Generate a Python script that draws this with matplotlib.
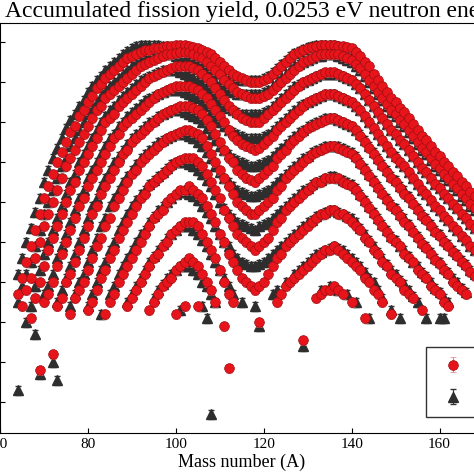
import numpy as np
import matplotlib
matplotlib.use("Agg")
import matplotlib.pyplot as plt
from matplotlib.ticker import LogLocator

plt.rcParams["font.family"] = ["Liberation Serif", "DejaVu Serif"]

# log10 of accumulated yield, one row per mass number: "A  v1 v2 ..."
red_rows = """
64 -7.3
65 -6.9 -7.6
66 -6.5 -7.2
67 -6.1 -6.9 -7.9
68 -5.7 -6.4 -7.4
69 -5.3 -6.0 -7.0 -9.2
70 -4.9 -5.6 -6.6 -7.5
71 -4.6 -5.3 -6.2 -7.3
72 -4.3 -5.0 -5.9 -7.0 -8.8
73 -4.0 -4.7 -5.6 -6.6 -7.6
74 -3.75 -4.4 -5.3 -6.3 -7.4
75 -3.5 -4.1 -5.0 -6.0 -7.0
76 -3.25 -3.9 -4.7 -5.7 -6.8 -7.8
77 -3.1 -3.7 -4.5 -5.4 -6.5 -7.4
78 -2.85 -3.5 -4.2 -5.1 -6.2 -7.2
79 -2.7 -3.3 -4.0 -4.9 -5.9 -7.0
80 -2.5 -3.1 -3.8 -4.6 -5.6 -6.7 -7.7
81 -2.35 -2.9 -3.6 -4.4 -5.3 -6.4 -7.5
82 -2.15 -2.7 -3.4 -4.2 -5.1 -6.1 -7.2
83 -2.05 -2.6 -3.2 -4.0 -4.8 -5.9 -6.9
84 -1.9 -2.4 -3.0 -3.8 -4.6 -5.6 -6.7 -7.8
85 -1.8 -2.3 -2.9 -3.6 -4.4 -5.4 -6.4 -7.5
86 -1.7 -2.2 -2.8 -3.4 -4.2 -5.1 -6.2 -7.3
87 -1.6 -2.1 -2.6 -3.3 -4.0 -4.9 -5.9 -7.0
88 -1.5 -2.0 -2.5 -3.1 -3.8 -4.7 -5.7 -6.8
89 -1.4 -1.9 -2.4 -3.0 -3.7 -4.5 -5.5 -6.6 -7.6
90 -1.35 -1.8 -2.3 -2.9 -3.5 -4.3 -5.3 -6.4 -7.4
91 -1.3 -1.7 -2.2 -2.8 -3.4 -4.2 -5.1 -6.2 -7.2
92 -1.25 -1.6 -2.1 -2.7 -3.3 -4.0 -4.9 -6.0 -7.0
93 -1.2 -1.55 -2.0 -2.6 -3.2 -3.9 -4.8 -5.8 -6.8
94 -1.2 -1.5 -1.9 -2.5 -3.1 -3.8 -4.6 -5.6 -6.6 -7.7
95 -1.15 -1.45 -1.85 -2.4 -3.0 -3.7 -4.5 -5.4 -6.4 -7.5
96 -1.15 -1.4 -1.8 -2.3 -2.9 -3.6 -4.4 -5.3 -6.3 -7.3
97 -1.12 -1.35 -1.75 -2.25 -2.8 -3.5 -4.3 -5.2 -6.1 -7.1
98 -1.1 -1.3 -1.7 -2.2 -2.75 -3.4 -4.2 -5.0 -6.0 -7.0
99 -1.1 -1.3 -1.65 -2.15 -2.7 -3.35 -4.1 -4.9 -5.8 -6.9
100 -1.08 -1.28 -1.6 -2.1 -2.65 -3.3 -4.0 -4.8 -5.7 -6.7 -7.8
101 -1.08 -1.25 -1.6 -2.1 -2.6 -3.25 -3.95 -4.7 -5.6 -6.6
102 -1.08 -1.25 -1.6 -2.1 -2.6 -3.2 -3.9 -4.7 -5.5 -6.5 -7.6
103 -1.1 -1.25 -1.6 -2.1 -2.6 -3.2 -3.9 -4.6 -5.5 -6.4
104 -1.12 -1.3 -1.65 -2.15 -2.65 -3.25 -3.9 -4.7 -5.5 -6.5
105 -1.15 -1.35 -1.7 -2.2 -2.7 -3.3 -4.0 -4.8 -5.6 -6.6 -7.6
106 -1.2 -1.4 -1.8 -2.3 -2.8 -3.4 -4.1 -4.9 -5.8 -6.8
107 -1.25 -1.5 -1.9 -2.4 -2.95 -3.6 -4.3 -5.1 -6.0 -7.0
108 -1.3 -1.6 -2.0 -2.55 -3.1 -3.8 -4.5 -5.3 -6.2 -7.2
109 -1.4 -1.7 -2.15 -2.7 -3.3 -4.0 -4.7 -5.5 -6.4 -7.5
110 -1.5 -1.8 -2.3 -2.85 -3.5 -4.2 -4.9 -5.8 -6.7
111 -1.6 -1.95 -2.45 -3.0 -3.7 -4.4 -5.2 -6.0 -7.0 -8.1
112 -1.7 -2.05 -2.6 -3.2 -3.9 -4.6 -5.4 -6.3 -7.3 -9.15
113 -1.8 -2.15 -2.7 -3.35 -4.0 -4.8 -5.6 -6.5 -7.5
114 -1.85 -2.25 -2.8 -3.45 -4.2 -5.0 -5.8 -6.7
115 -1.9 -2.3 -2.9 -3.55 -4.3 -5.1 -5.9 -6.9
116 -1.95 -2.35 -2.95 -3.6 -4.4 -5.2 -6.0 -7.0
117 -2.0 -2.4 -3.0 -3.65 -4.45 -5.3 -6.1 -7.1
118 -2.0 -2.4 -3.0 -3.7 -4.5 -5.3 -6.2 -7.2
119 -2.0 -2.4 -3.0 -3.65 -4.4 -5.2 -6.1 -7.1 -8.0
120 -1.95 -2.35 -2.9 -3.55 -4.3 -5.1 -6.0 -7.0
121 -1.9 -2.3 -2.8 -3.45 -4.2 -5.0 -5.9 -6.8
122 -1.8 -2.2 -2.7 -3.35 -4.1 -4.9 -5.7 -6.6
123 -1.7 -2.1 -2.6 -3.2 -3.9 -4.7 -5.5 -6.4 -7.5
124 -1.6 -2.0 -2.5 -3.1 -3.8 -4.6 -5.4 -6.3 -7.3
125 -1.5 -1.9 -2.4 -3.0 -3.7 -4.4 -5.2 -6.1 -7.1
126 -1.4 -1.8 -2.3 -2.9 -3.55 -4.3 -5.1 -6.0 -7.0
127 -1.3 -1.7 -2.2 -2.8 -3.45 -4.2 -5.0 -5.9 -6.9
128 -1.25 -1.6 -2.1 -2.7 -3.35 -4.1 -4.9 -5.8 -6.8
129 -1.2 -1.5 -2.0 -2.6 -3.25 -4.0 -4.8 -5.7 -6.7 -8.45
130 -1.15 -1.45 -1.95 -2.5 -3.15 -3.9 -4.7 -5.6 -6.6
131 -1.12 -1.4 -1.9 -2.45 -3.1 -3.8 -4.6 -5.5 -6.5
132 -1.1 -1.35 -1.85 -2.4 -3.05 -3.75 -4.5 -5.4 -6.4 -7.4
133 -1.08 -1.3 -1.8 -2.35 -3.0 -3.7 -4.5 -5.3 -6.3 -7.3
134 -1.08 -1.3 -1.75 -2.3 -2.95 -3.65 -4.4 -5.3 -6.2 -7.2
135 -1.08 -1.3 -1.75 -2.3 -2.9 -3.6 -4.4 -5.2 -6.2 -7.2
136 -1.08 -1.3 -1.75 -2.3 -2.9 -3.6 -4.4 -5.2 -6.1 -7.1
137 -1.1 -1.3 -1.8 -2.35 -2.95 -3.65 -4.4 -5.3 -6.2 -7.2
138 -1.1 -1.35 -1.85 -2.4 -3.0 -3.7 -4.5 -5.3 -6.3 -7.3
139 -1.12 -1.4 -1.9 -2.45 -3.05 -3.75 -4.55 -5.4 -6.4
140 -1.15 -1.45 -1.95 -2.5 -3.1 -3.8 -4.6 -5.5 -6.5 -7.5
141 -1.25 -1.55 -2.05 -2.6 -3.2 -3.9 -4.7 -5.6 -6.6
142 -1.35 -1.65 -2.15 -2.7 -3.35 -4.05 -4.85 -5.7 -6.7
143 -1.5 -1.8 -2.3 -2.85 -3.5 -4.2 -5.0 -5.9 -6.9 -7.9
144 -1.6 -1.95 -2.45 -3.0 -3.65 -4.35 -5.15 -6.0 -7.0
145 -1.8 -2.1 -2.6 -3.15 -3.8 -4.5 -5.3 -6.2 -7.2
146 -1.95 -2.25 -2.75 -3.3 -3.95 -4.65 -5.45 -6.3 -7.3
147 -2.1 -2.4 -2.9 -3.45 -4.1 -4.8 -5.6 -6.5 -7.5
148 -2.25 -2.55 -3.05 -3.6 -4.25 -4.95 -5.75 -6.6
149 -2.4 -2.7 -3.2 -3.75 -4.4 -5.1 -5.9 -6.8 -7.8
150 -2.5 -2.8 -3.3 -3.9 -4.5 -5.2 -6.0 -6.9
151 -2.65 -2.95 -3.45 -4.0 -4.65 -5.35 -6.1 -7.0
152 -2.75 -3.05 -3.55 -4.1 -4.8 -5.5 -6.3 -7.2
153 -2.9 -3.2 -3.7 -4.25 -4.9 -5.6 -6.4 -7.3
154 -3.05 -3.35 -3.85 -4.4 -5.05 -5.75 -6.5 -7.4
155 -3.2 -3.5 -4.0 -4.55 -5.2 -5.9 -6.7
156 -3.35 -3.65 -4.15 -4.7 -5.35 -6.05 -6.8 -7.7
157 -3.45 -3.75 -4.25 -4.8 -5.45 -6.15 -6.9
158 -3.6 -3.9 -4.4 -4.95 -5.6 -6.3 -7.1
159 -3.75 -4.05 -4.55 -5.1 -5.75 -6.45 -7.2
160 -3.85 -4.15 -4.65 -5.2 -5.85 -6.55 -7.3
161 -4.0 -4.3 -4.8 -5.35 -6.0 -6.7 -7.5
162 -4.1 -4.4 -4.9 -5.45 -6.1 -6.8 -7.6
163 -4.25 -4.55 -5.05 -5.6 -6.25 -7.0
164 -4.35 -4.65 -5.15 -5.7 -6.35 -7.1
165 -4.5 -4.8 -5.3 -5.85 -6.5 -7.2
166 -4.6 -4.9 -5.4 -5.95 -6.6 -7.3
167 -4.75 -5.05 -5.55 -6.1 -6.75
168 -4.85 -5.15 -5.65 -6.2 -6.85
"""

black_rows = """
64 -6.8 -7.5 -9.7
65 -6.4 -7.1
66 -6.0 -6.8 -8.0
67 -5.65 -6.5 -7.6
68 -5.25 -6.1 -7.1 -8.3
69 -4.9 -5.7 -6.7 -9.3
70 -4.5 -5.3 -6.3 -7.3
71 -4.2 -5.0 -6.0 -7.1
72 -3.9 -4.7 -5.7 -6.8 -9.0
73 -3.65 -4.4 -5.4 -6.4 -7.5 -9.45
74 -3.4 -4.1 -5.1 -6.1 -7.2
75 -3.15 -3.9 -4.8 -5.8 -6.9
76 -2.95 -3.6 -4.5 -5.5 -6.6 -7.6
77 -2.8 -3.4 -4.3 -5.2 -6.3 -7.3
78 -2.6 -3.2 -4.0 -4.9 -6.0 -7.0
79 -2.45 -3.0 -3.8 -4.7 -5.7 -6.8
80 -2.25 -2.8 -3.6 -4.4 -5.4 -6.5 -7.6
81 -2.1 -2.65 -3.4 -4.2 -5.1 -6.2 -7.3
82 -1.95 -2.5 -3.2 -4.0 -4.9 -5.9 -7.0
83 -1.85 -2.35 -3.0 -3.8 -4.6 -5.6 -6.7 -7.8
84 -1.7 -2.2 -2.85 -3.6 -4.4 -5.4 -6.5
85 -1.6 -2.1 -2.7 -3.4 -4.2 -5.1 -6.2 -7.3
86 -1.5 -2.0 -2.6 -3.3 -4.0 -4.9 -6.0 -7.1
87 -1.4 -1.9 -2.45 -3.1 -3.85 -4.7 -5.7 -6.8
88 -1.3 -1.8 -2.35 -3.0 -3.7 -4.5 -5.5 -6.6
89 -1.22 -1.7 -2.25 -2.85 -3.55 -4.35 -5.3 -6.4 -7.5
90 -1.15 -1.6 -2.15 -2.75 -3.4 -4.2 -5.1 -6.2 -7.3
91 -1.1 -1.5 -2.05 -2.65 -3.3 -4.05 -4.95 -6.0 -7.1
92 -1.08 -1.45 -1.95 -2.55 -3.2 -3.9 -4.8 -5.8 -6.9
93 -1.08 -1.4 -1.9 -2.45 -3.1 -3.8 -4.7 -5.7 -6.7
94 -1.08 -1.35 -1.85 -2.4 -3.0 -3.7 -4.55 -5.5 -6.5
95 -1.08 -1.35 -1.8 -2.35 -2.95 -3.6 -4.45 -5.35 -6.35 -7.4
96 -1.08 -1.3 -1.75 -2.3 -2.85 -3.5 -4.35 -5.2 -6.2 -7.2
97 -1.1 -1.3 -1.7 -2.25 -2.8 -3.45 -4.25 -5.1 -6.05 -7.05
98 -1.1 -1.3 -1.7 -2.2 -2.75 -3.4 -4.15 -5.0 -5.9 -6.9
99 -1.12 -1.3 -1.7 -2.2 -2.7 -3.35 -4.05 -4.9 -5.8 -6.8
100 -1.15 -1.35 -1.7 -2.2 -2.7 -3.3 -4.0 -4.8 -5.7 -6.7
101 -1.18 -1.4 -1.75 -2.2 -2.7 -3.3 -4.0 -4.75 -5.6 -6.6 -7.7
102 -1.22 -1.45 -1.8 -2.25 -2.75 -3.3 -4.0 -4.75 -5.6 -6.6
103 -1.27 -1.5 -1.85 -2.3 -2.8 -3.35 -4.05 -4.8 -5.6 -6.6
104 -1.33 -1.55 -1.9 -2.35 -2.85 -3.4 -4.1 -4.85 -5.7 -6.7
105 -1.4 -1.6 -1.95 -2.4 -2.9 -3.5 -4.2 -4.95 -5.8 -6.8
106 -1.5 -1.7 -2.05 -2.5 -3.0 -3.6 -4.3 -5.1 -5.95 -7.0 -7.6
107 -1.6 -1.8 -2.15 -2.6 -3.15 -3.75 -4.45 -5.25 -6.1 -7.1 -7.9
108 -1.7 -1.9 -2.3 -2.75 -3.3 -3.9 -4.6 -5.4 -6.3 -7.3 -10.3
109 -1.75 -2.0 -2.4 -2.9 -3.45 -4.1 -4.8 -5.6 -6.5 -7.5
110 -1.8 -2.1 -2.5 -3.0 -3.6 -4.25 -5.0 -5.8 -6.7
111 -1.85 -2.15 -2.6 -3.1 -3.7 -4.4 -5.15 -6.0 -6.9
112 -1.9 -2.2 -2.65 -3.2 -3.8 -4.5 -5.3 -6.1 -7.1
113 -1.9 -2.25 -2.7 -3.25 -3.9 -4.6 -5.4 -6.3 -7.3
114 -1.92 -2.3 -2.75 -3.3 -3.95 -4.7 -5.5 -6.4
115 -1.95 -2.3 -2.8 -3.35 -4.0 -4.75 -5.55 -6.5 -7.5
116 -1.95 -2.3 -2.8 -3.4 -4.05 -4.8 -5.6 -6.55
117 -1.95 -2.3 -2.8 -3.4 -4.1 -4.85 -5.65 -6.6
118 -1.95 -2.3 -2.8 -3.4 -4.1 -4.85 -5.7 -6.6 -7.6
119 -1.95 -2.3 -2.8 -3.4 -4.05 -4.8 -5.6 -6.55 -8.1
120 -1.9 -2.25 -2.75 -3.35 -4.0 -4.75 -5.55 -6.5
121 -1.85 -2.2 -2.7 -3.3 -3.95 -4.7 -5.5 -6.4
122 -1.75 -2.1 -2.6 -3.2 -3.85 -4.6 -5.4 -6.3 -7.3
123 -1.65 -2.0 -2.5 -3.1 -3.75 -4.5 -5.3 -6.2 -7.2
124 -1.55 -1.9 -2.4 -3.0 -3.65 -4.4 -5.2 -6.1
125 -1.45 -1.8 -2.3 -2.9 -3.55 -4.3 -5.1 -6.0 -7.0
126 -1.35 -1.7 -2.2 -2.8 -3.45 -4.2 -5.0 -5.9
127 -1.28 -1.6 -2.1 -2.7 -3.35 -4.1 -4.9 -5.8 -6.8
128 -1.22 -1.55 -2.05 -2.6 -3.25 -4.0 -4.8 -5.7 -6.7
129 -1.18 -1.5 -2.0 -2.55 -3.2 -3.9 -4.7 -5.6 -6.6 -8.6
130 -1.12 -1.45 -1.95 -2.5 -3.1 -3.85 -4.65 -5.5 -6.5
131 -1.1 -1.4 -1.9 -2.45 -3.05 -3.75 -4.55 -5.45 -6.4
132 -1.08 -1.35 -1.85 -2.4 -3.0 -3.7 -4.5 -5.35 -6.3
133 -1.08 -1.35 -1.8 -2.35 -2.95 -3.65 -4.45 -5.3 -6.25 -7.2
134 -1.08 -1.3 -1.8 -2.3 -2.9 -3.6 -4.4 -5.25 -6.2
135 -1.08 -1.3 -1.8 -2.3 -2.9 -3.6 -4.35 -5.2 -6.15 -7.1
136 -1.08 -1.3 -1.8 -2.3 -2.9 -3.6 -4.35 -5.2 -6.1
137 -1.1 -1.35 -1.8 -2.35 -2.95 -3.6 -4.4 -5.25 -6.15 -7.2
138 -1.12 -1.4 -1.85 -2.4 -3.0 -3.65 -4.45 -5.3 -6.2
139 -1.15 -1.45 -1.9 -2.45 -3.05 -3.7 -4.5 -5.35 -6.3 -7.3
140 -1.2 -1.5 -1.95 -2.5 -3.1 -3.75 -4.55 -5.4 -6.4
141 -1.3 -1.6 -2.05 -2.6 -3.2 -3.85 -4.65 -5.5 -6.5 -7.5
142 -1.42 -1.7 -2.15 -2.7 -3.3 -4.0 -4.8 -5.65 -6.6
143 -1.55 -1.85 -2.3 -2.85 -3.45 -4.15 -4.95 -5.8 -6.75
144 -1.7 -2.0 -2.45 -3.0 -3.6 -4.3 -5.1 -5.95 -6.9 -7.9
145 -1.85 -2.15 -2.6 -3.15 -3.75 -4.45 -5.25 -6.1 -7.0
146 -2.0 -2.3 -2.75 -3.3 -3.9 -4.6 -5.4 -6.25 -7.2
147 -2.15 -2.45 -2.9 -3.45 -4.05 -4.75 -5.55 -6.4 -7.4
148 -2.3 -2.6 -3.05 -3.6 -4.2 -4.9 -5.7 -6.55
149 -2.45 -2.75 -3.2 -3.75 -4.35 -5.05 -5.85 -6.7 -7.7
150 -2.55 -2.85 -3.3 -3.85 -4.45 -5.15 -5.95 -6.8
151 -2.7 -3.0 -3.45 -4.0 -4.6 -5.3 -6.1 -6.95 -7.9
152 -2.8 -3.1 -3.55 -4.1 -4.7 -5.4 -6.2 -7.05
153 -2.95 -3.25 -3.7 -4.25 -4.85 -5.55 -6.35 -7.2
154 -3.1 -3.4 -3.85 -4.4 -5.0 -5.7 -6.5 -7.35
155 -3.25 -3.55 -4.0 -4.55 -5.15 -5.85 -6.6 -7.5
156 -3.4 -3.7 -4.15 -4.7 -5.3 -6.0 -6.75
157 -3.5 -3.8 -4.25 -4.8 -5.4 -6.1 -6.85 -7.9
158 -3.65 -3.95 -4.4 -4.95 -5.55 -6.25 -7.0
159 -3.8 -4.1 -4.55 -5.1 -5.7 -6.4 -7.15
160 -3.9 -4.2 -4.65 -5.2 -5.8 -6.5 -7.25 -7.9
161 -4.05 -4.35 -4.8 -5.35 -5.95 -6.65 -7.4 -7.9
162 -4.15 -4.45 -4.9 -5.45 -6.05 -6.75 -7.5
163 -4.3 -4.6 -5.05 -5.6 -6.2 -6.9
164 -4.4 -4.7 -5.15 -5.7 -6.3 -7.0
165 -4.55 -4.85 -5.3 -5.85 -6.45 -7.15
166 -4.65 -4.95 -5.4 -5.95 -6.55 -7.25
167 -4.8 -5.1 -5.55 -6.1 -6.7
168 -4.9 -5.2 -5.65 -6.2 -6.8
"""

rel_unc = 0.25  # relative uncertainty shown as error bars
labels = ["235U, evaluated", "235U, calculated"]


def parse(rows):
    a, y = [], []
    for line in rows.strip().splitlines():
        parts = line.split()
        for v in parts[1:]:
            a.append(int(parts[0]))
            y.append(10 ** float(v))
    return np.array(a), np.array(y)


a_red, y_red = parse(red_rows)
a_blk, y_blk = parse(black_rows)

fig = plt.figure(figsize=(4.74, 4.74), dpi=100)
ax = fig.add_axes([0.0, 0.0865, 1.02, 0.865])

ax.errorbar(a_red, y_red, yerr=rel_unc * y_red, fmt="o", ms=7,
            mfc="#e8141b", mec="#9a1010", mew=0.5, ecolor="#f07a90",
            elinewidth=0.8, capsize=2, label=labels[0], zorder=3)
ax.errorbar(a_blk, y_blk, yerr=rel_unc * y_blk, fmt="^", ms=7,
            mfc="#2e2e2e", mec="#2e2e2e", ecolor="#333333",
            elinewidth=0.8, capsize=2, label=labels[1], zorder=2)

ax.set_yscale("log")
ax.set_xlim(60, 170)
ax.set_ylim(10 ** -10.78, 10 ** -0.525)
ax.set_xticks([60, 80, 100, 120, 140, 160])
ax.yaxis.set_major_locator(LogLocator(base=10, numticks=20))
ax.minorticks_off()
ax.tick_params(direction="in", labelsize=11)
ax.tick_params(axis="y", labelleft=False)
ax.set_xlabel("Mass number (A)", fontsize=13, labelpad=2)
ax.set_title("Accumulated fission yield, 0.0253 eV neutron energy",
             fontsize=17, loc="left", x=0.01, pad=4)
ax.legend(loc="lower left", bbox_to_anchor=(0.865, 0.02), fontsize=11,
          frameon=True, fancybox=False, edgecolor="black",
          borderpad=0.8, labelspacing=1.2, handletextpad=1.2)

fig.savefig("out.png", dpi=100)
